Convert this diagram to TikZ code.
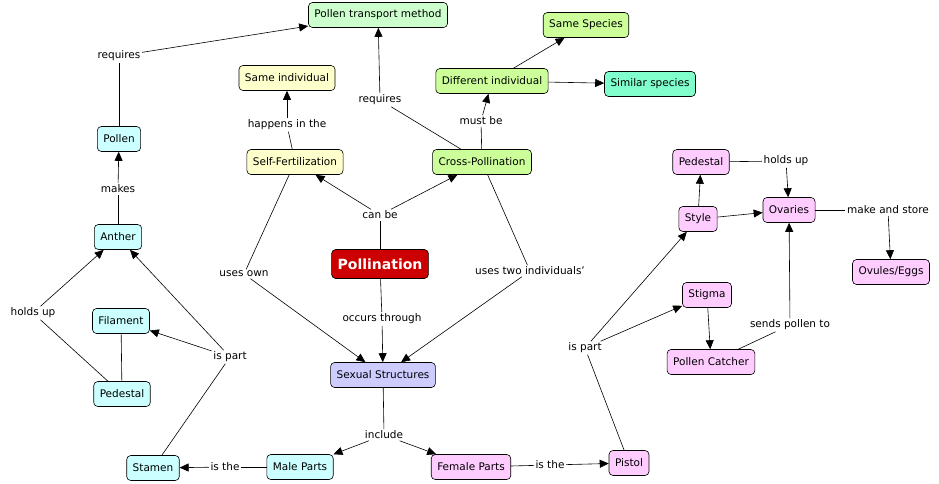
\documentclass[tikz,border=0pt]{standalone}
\usepackage{fontspec}
\setmainfont{DejaVu Sans}
\usetikzlibrary{arrows.meta}
\definecolor{cgreen}{HTML}{CCFF99}
\definecolor{cpale}{HTML}{CCFFCC}
\definecolor{caqua}{HTML}{80FFCC}
\definecolor{cyel}{HTML}{FFFFCC}
\definecolor{cred}{HTML}{CC0000}
\definecolor{clav}{HTML}{CCCCFF}
\definecolor{ccyan}{HTML}{CCFFFF}
\definecolor{cpink}{HTML}{FFCCFF}
\begin{document}
\begin{tikzpicture}[x=1pt,y=-1pt,
  every node/.style={font=\fontsize{10.5}{12}\selectfont},
  c/.style={draw=black,rounded corners=4pt,minimum height=25pt,inner xsep=6pt,line width=0.6pt},
  l/.style={fill=white,inner sep=1.5pt},
  a/.style={-{Triangle[length=9pt,width=8pt]},line width=0.6pt},
  p/.style={line width=0.6pt}]
\useasboundingbox (0,0) rectangle (939,483);
\node[c,fill=cpale] (ptm) at (378,15) {Pollen transport method};
\node[c,fill=cgreen] (ss) at (586,25) {Same Species};
\node[c,fill=cgreen] (di) at (492,81) {Different individual};
\node[c,fill=caqua] (sim) at (650,84) {Similar species};
\node[c,fill=cyel] (si) at (287,78) {Same individual};
\node[c,fill=cyel] (sf) at (295,162) {Self-Fertilization};
\node[c,fill=cgreen] (cp) at (482,162) {Cross-Pollination};
\node[c,fill=cred,text=white,font=\fontsize{14}{16}\selectfont\bfseries,minimum height=29pt] (pol) at (380,264) {Pollination};
\node[c,fill=clav] (sx) at (383,375) {Sexual Structures};
\node[c,fill=ccyan] (mp) at (300,467) {Male Parts};
\node[c,fill=cpink] (fp) at (471,467) {Female Parts};
\node[c,fill=ccyan] (st) at (153,468) {Stamen};
\node[c,fill=cpink] (pi) at (629,463) {Pistol};
\node[c,fill=ccyan] (pn) at (119,139) {Pollen};
\node[c,fill=ccyan] (an) at (118,237) {Anther};
\node[c,fill=ccyan] (fi) at (121,321) {Filament};
\node[c,fill=ccyan] (pl) at (122,394) {Pedestal};
\node[c,fill=cpink] (pr) at (701,162) {Pedestal};
\node[c,fill=cpink] (sty) at (698,219) {Style};
\node[c,fill=cpink] (ov) at (789,210) {Ovaries};
\node[c,fill=cpink] (oe) at (891,272) {Ovules/Eggs};
\node[c,fill=cpink] (sg) at (707,295) {Stigma};
\node[c,fill=cpink] (pc) at (711,362) {Pollen Catcher};
% linking phrases
\node[l] (l1) at (119,56) {requires};
\node[l] (l2) at (287,125) {happens in the};
\node[l] (l3) at (380,100) {requires};
\node[l] (l4) at (481,121) {must be};
\node[l] (l5) at (380,215) {can be};
\node[l] (l6) at (382,319) {occurs through};
\node[l] (l7) at (244,274) {uses own};
\node[l] (l8) at (530,271) {uses two individuals'};
\node[l] (l9) at (384,435) {include};
\node[l] (l10) at (225,467) {is the};
\node[l] (l11) at (550,465) {is the};
\node[l] (l12) at (230,357) {is part};
\node[l] (l13) at (33,313) {holds up};
\node[l] (l14) at (118,189) {makes};
\node[l] (l15) at (585,348) {is part};
\node[l] (l16) at (786,161) {holds up};
\node[l] (l17) at (888,210) {make and store};
\node[l] (l18) at (790,325) {sends pollen to};
% connectors
\draw[p] (pn)--(l1); \draw[a] (l1)--(ptm);
\draw[p] (sf)--(l2); \draw[a] (l2)--(si);
\draw[p] (cp)--(l3); \draw[a] (l3)--(ptm);
\draw[p] (cp)--(l4); \draw[a] (l4)--(di);
\draw[a] (di)--(ss); \draw[a] (di)--(sim);
\draw[p] (pol)--(l5); \draw[a] (l5)--(sf); \draw[a] (l5)--(cp);
\draw[p] (pol)--(l6); \draw[a] (l6)--(sx);
\draw[p] (sf)--(l7); \draw[a] (l7)--(sx);
\draw[p] (cp)--(l8); \draw[a] (l8)--(sx);
\draw[p] (sx)--(l9); \draw[a] (l9)--(mp); \draw[a] (l9)--(fp);
\draw[p] (mp)--(l10); \draw[a] (l10)--(st);
\draw[p] (fp)--(l11); \draw[a] (l11)--(pi);
\draw[p] (st)--(l12); \draw[a] (l12)--(an); \draw[a] (l12)--(fi);
\draw[p] (pl)--(l13); \draw[a] (l13)--(an);
\draw[p] (pl)--(fi);
\draw[p] (an)--(l14); \draw[a] (l14)--(pn);
\draw[p] (pi)--(l15); \draw[a] (l15)--(sty); \draw[a] (l15)--(sg);
\draw[a] (sty)--(pr); \draw[a] (sty)--(ov);
\draw[p] (pr)--(l16); \draw[a] (l16)--(ov);
\draw[p] (ov)--(l17); \draw[a] (l17)--(oe);
\draw[a] (sg)--(pc);
\draw[p] (pc)--(l18); \draw[a] (l18)--(ov);
\end{tikzpicture}
\end{document}
